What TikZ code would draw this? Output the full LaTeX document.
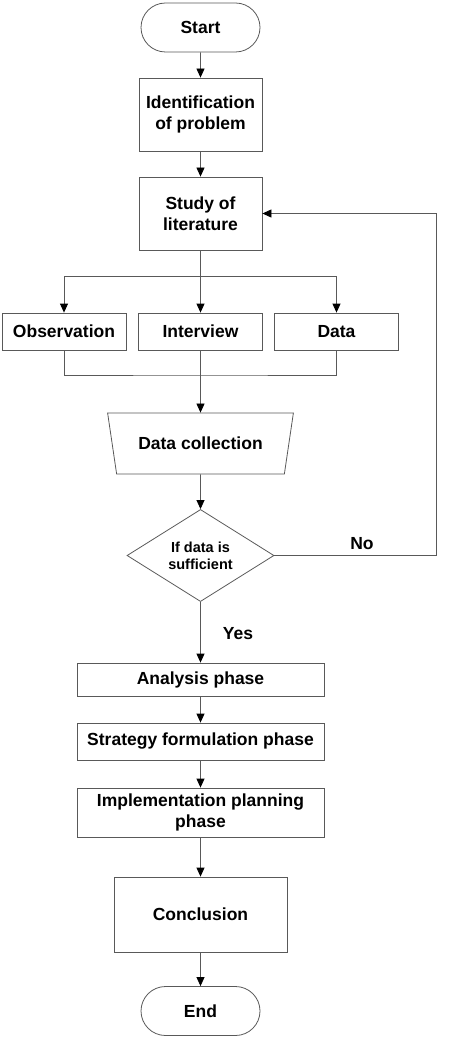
\documentclass[tikz,border=0pt]{standalone}
\usepackage{fontspec}
\setmainfont{Liberation Sans}
\usetikzlibrary{shapes.geometric,shapes.misc,arrows.meta}

\begin{document}
\begin{tikzpicture}[x=1pt, y=-1pt, every node/.style={font=\bfseries\fontsize{17.5}{21}\selectfont, align=center, draw=black!65, line width=0.8pt, inner sep=2pt},
	box/.style={rectangle, minimum width=123pt, minimum height=73pt},
	term/.style={rounded rectangle, minimum width=123pt, minimum height=49pt},
	src/.style={rectangle, minimum width=124pt, minimum height=37pt},
	phase/.style={rectangle, minimum width=247pt},
	lbl/.style={draw=none},
	conn/.style={draw=black!65, line width=0.8pt, -{Triangle[width=8pt,length=9pt,black]}}]
	\useasboundingbox (0,0) rectangle (474,1040);
	\node[term] (start) at (200.5,27.5) {Start};
	\node[box] (ident) at (200.5,114.5) {Identification\\of problem};
	\node[box] (study) at (200.5,213.5) {Study of\\literature};
	\foreach \n/\x/\t in {obs/64/Observation, intv/200.5/Interview, data/336.5/Data} {\node[src] (\n) at (\x,331.5) {\t};}
	\node[trapezium, trapezium angle=67.7, trapezium stretches, shape border rotate=180, minimum width=186pt, minimum height=61pt] (coll) at (200.5,443.5) {Data collection};
	\node[diamond, minimum width=147pt, minimum height=85pt, inner sep=0pt, font=\bfseries\fontsize{14.5}{17}\selectfont] (dec) at (200.5,555.5) {If data is\\sufficient};
	\node[phase, minimum height=33pt] (ana) at (200.5,679.5) {Analysis phase};
	\node[phase, minimum height=37pt] (strat) at (200.5,741.5) {Strategy formulation phase};
	\node[phase, minimum height=49pt] (impl) at (200.5,812.5) {Implementation planning\\phase};
	\node[rectangle, minimum width=173pt, minimum height=75pt] (concl) at (200.5,914.5) {Conclusion};
	\node[term] (end) at (200.5,1011) {End};
	\coordinate (branch) at (200.5,276);
	\coordinate (merge) at (200.5,375);
	\coordinate (loop) at (436,555.5);
	\draw[conn] (start) -- (ident);
	\draw[conn] (ident) -- (study);
	\draw[conn] (study) -- (intv);
	\draw[conn] (branch) -| (obs);
	\draw[conn] (branch) -| (data);
	\draw[draw=black!65, line width=0.8pt] (obs) |- (merge) -| (data);
	\draw[conn] (intv) -- (coll);
	\draw[conn] (coll) -- (dec);
	\draw[conn] (dec) -- (ana);
	\draw[conn] (dec.east) -- (loop) |- (study.east);
	\node[lbl] (no) at (362,544) {No};
	\node[lbl] (yes) at (238,634) {Yes};
	\draw[conn] (ana) -- (strat);
	\draw[conn] (strat) -- (impl);
	\draw[conn] (impl) -- (concl);
	\draw[conn] (concl) -- (end);
\end{tikzpicture}
\end{document}
